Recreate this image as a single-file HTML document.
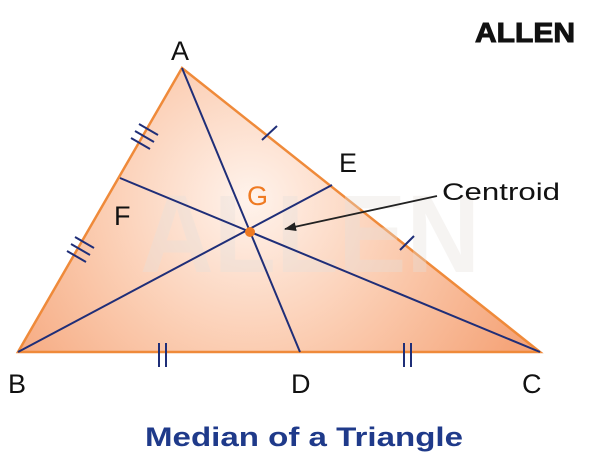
<!DOCTYPE html>
<html><head><style>
html,body{margin:0;padding:0;background:#fff;}
svg{display:block;}
</style></head><body>
<svg width="608" height="468" viewBox="0 0 608 468" xmlns="http://www.w3.org/2000/svg">
<defs>
<radialGradient id="g" cx="250" cy="200" r="300" gradientUnits="userSpaceOnUse">
<stop offset="0" stop-color="#fff3ec"/>
<stop offset="0.5" stop-color="#fbcdb2"/>
<stop offset="1" stop-color="#f5a57a"/>
</radialGradient>
<marker id="ar" markerWidth="12" markerHeight="9" refX="11" refY="4.5" orient="auto" markerUnits="userSpaceOnUse">
<path d="M0,0 L12,4.5 L0,9 z" fill="#222"/>
</marker>
</defs>
<polygon points="182,68 18,352 540,352" fill="url(#g)" stroke="#ef8a3a" stroke-width="2.5" stroke-linejoin="miter"/>
<text x="310" y="272" font-family="Liberation Sans,sans-serif" font-weight="bold" font-size="110" fill="#e6e0dc" opacity="0.35" text-anchor="middle" textLength="340" lengthAdjust="spacingAndGlyphs">ALLEN</text>
<g stroke="#1f2e78" stroke-width="2" fill="none">
<line x1="182" y1="68" x2="300" y2="352"/>
<line x1="18" y1="352" x2="332" y2="185"/>
<line x1="120" y1="178" x2="540" y2="352"/>
<line x1="131" y1="138" x2="150" y2="149"/>
<line x1="135" y1="131" x2="154" y2="142"/>
<line x1="139" y1="124" x2="158" y2="135"/>
<line x1="67" y1="251" x2="86" y2="262"/>
<line x1="71" y1="244" x2="90" y2="255"/>
<line x1="75" y1="237" x2="94" y2="248"/>
<line x1="262" y1="140" x2="277" y2="126"/>
<line x1="400" y1="250" x2="414" y2="236"/>
<line x1="159" y1="343" x2="159" y2="367"/>
<line x1="166" y1="343" x2="166" y2="367"/>
<line x1="404" y1="343" x2="404" y2="367"/>
<line x1="411" y1="343" x2="411" y2="367"/>
</g>
<circle cx="250" cy="232" r="5" fill="#ef7a22"/>
<line x1="437" y1="196" x2="285" y2="229" stroke="#222" stroke-width="1.8" marker-end="url(#ar)"/>
<g font-family="Liberation Sans,sans-serif" font-size="27" fill="#111">
<text x="171" y="60">A</text>
<text x="8" y="393">B</text>
<text x="522" y="393">C</text>
<text x="291" y="393">D</text>
<text x="339" y="172">E</text>
<text x="114" y="225">F</text>
<text x="442" y="200" font-size="24" textLength="118" lengthAdjust="spacingAndGlyphs">Centroid</text>
</g>
<text x="247" y="205" font-family="Liberation Sans,sans-serif" font-size="27" fill="#ef7a22">G</text>
<text x="475" y="42" font-family="Liberation Sans,sans-serif" font-weight="900" font-size="28" fill="#111" stroke="#111" stroke-width="1" textLength="100" lengthAdjust="spacingAndGlyphs">ALLEN</text>
<text x="145" y="446" font-family="Liberation Sans,sans-serif" font-weight="bold" font-size="27" fill="#1f3a8a" textLength="318" lengthAdjust="spacingAndGlyphs">Median of a Triangle</text>
</svg>
</body></html>
